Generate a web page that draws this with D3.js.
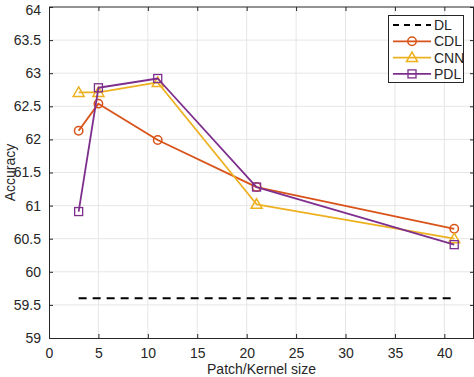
<!DOCTYPE html>
<html>
<head>
<meta charset="utf-8">
<script src="https://cdn.jsdelivr.net/npm/d3@7"></script>
<style>
  body { margin: 0; background: #fff; }
  svg { display: block; font-family: "Liberation Sans", Arial, sans-serif; }
</style>
</head>
<body>
<svg id="chart" width="474" height="377"></svg>
<script>
// data
var sizes = [3, 5, 11, 21, 41];
var cdl = [62.13, 62.54, 61.99, 61.28, 60.65];
var cnn = [62.71, 62.71, 62.86, 61.02, 60.50];
var pdl = [60.91, 62.78, 62.92, 61.28, 60.41];
var dlX = [3, 41];
var dlVal = [59.6, 59.6];
var xTicks = [0, 5, 10, 15, 20, 25, 30, 35, 40];
var yTicks = [59, 59.5, 60, 60.5, 61, 61.5, 62, 62.5, 63, 63.5, 64];

var svg = d3.select("#chart");
var margin = {top: 7, right: 0, bottom: 39, left: 49};
var width = 474 - margin.left - margin.right;
var height = 377 - margin.top - margin.bottom;

var g = svg.append("g")
    .attr("transform", "translate(" + margin.left + "," + margin.top + ")");

var x = d3.scaleLinear().domain([0, 43]).range([0, width]);
var y = d3.scaleLinear().domain([59, 64]).range([height, 0]);

// grid
g.append("g").selectAll("line").data(xTicks.slice(1)).enter().append("line")
    .attr("x1", d => x(d)).attr("x2", d => x(d))
    .attr("y1", 0).attr("y2", height)
    .attr("stroke", "#e6e6e6").attr("stroke-width", 1);
g.append("g").selectAll("line").data(yTicks.slice(1, -1)).enter().append("line")
    .attr("x1", 0).attr("x2", width)
    .attr("y1", d => y(d)).attr("y2", d => y(d))
    .attr("stroke", "#e6e6e6").attr("stroke-width", 1);

// axes (ticks pointing inward)
var xAxis = g.append("g")
    .attr("transform", "translate(0," + height + ")")
    .call(d3.axisBottom(x).tickValues(xTicks).tickSizeInner(-4).tickSizeOuter(0).tickPadding(10));
var yAxis = g.append("g")
    .call(d3.axisLeft(y).tickValues(yTicks).tickFormat(d3.format("")).tickSizeInner(-4).tickSizeOuter(0).tickPadding(8));
[xAxis, yAxis].forEach(function(a) {
  a.selectAll("path").attr("stroke", "#262626");
  a.selectAll("line").attr("stroke", "#262626");
  a.selectAll("text").attr("fill", "#262626").style("font-size", "14px");
});
// keep the top label inside the page
yAxis.selectAll(".tick").filter(d => d === 64).select("text").attr("dy", "0.5em");

// top and right spines with inward ticks
g.append("line").attr("x1", 0).attr("x2", width).attr("y1", 0).attr("y2", 0).attr("stroke", "#262626");
g.append("line").attr("x1", width - 0.5).attr("x2", width - 0.5).attr("y1", 0).attr("y2", height).attr("stroke", "#262626");
g.append("g").selectAll("line").data(xTicks).enter().append("line")
    .attr("x1", d => x(d) + 0.5).attr("x2", d => x(d) + 0.5).attr("y1", 0).attr("y2", 4)
    .attr("stroke", "#262626");
g.append("g").selectAll("line").data(yTicks).enter().append("line")
    .attr("x1", width - 4).attr("x2", width).attr("y1", d => y(d) + 0.5).attr("y2", d => y(d) + 0.5)
    .attr("stroke", "#262626");

// axis labels
svg.append("text")
    .attr("x", margin.left + x(21.5)).attr("y", 374)
    .attr("text-anchor", "middle").attr("fill", "#262626").style("font-size", "14px")
    .text("Patch/Kernel size");
svg.append("text")
    .attr("transform", "translate(15," + (margin.top + height / 2) + ") rotate(-90)")
    .attr("text-anchor", "middle").attr("fill", "#262626").style("font-size", "14px")
    .text("Accuracy");

var line = d3.line()
    .x(function(d) { return x(d[0]); })
    .y(function(d) { return y(d[1]); });

var series = [
  {name: "CDL", vals: cdl, color: "#D95319", marker: "circle"},
  {name: "CNN", vals: cnn, color: "#EDB120", marker: "triangle"},
  {name: "PDL", vals: pdl, color: "#7E2F8E", marker: "square"}
];

function drawMarker(sel, type, color) {
  if (type === "circle") {
    sel.append("circle").attr("r", 4.2)
      .attr("fill", "none").attr("stroke", color).attr("stroke-width", 1.5);
  } else if (type === "triangle") {
    sel.append("path").attr("d", "M0,-5.5L5.5,4L-5.5,4Z")
      .attr("fill", "none").attr("stroke", color).attr("stroke-width", 1.5);
  } else {
    sel.append("rect").attr("x", -4).attr("y", -4).attr("width", 8).attr("height", 8)
      .attr("fill", "none").attr("stroke", color).attr("stroke-width", 1.3);
  }
}

// DL dashed line
g.append("path")
    .datum(d3.zip(dlX, dlVal))
    .attr("fill", "none").attr("stroke", "#000").attr("stroke-width", 2)
    .attr("stroke-dasharray", "8,6")
    .attr("d", line);

series.forEach(function(s) {
  var pts = d3.zip(sizes, s.vals);
  g.append("path")
    .datum(pts)
    .attr("fill", "none").attr("stroke", s.color).attr("stroke-width", 1.8)
    .attr("stroke-linejoin", "round")
    .attr("d", line);
  pts.forEach(function(p) {
    var m = g.append("g").attr("transform", "translate(" + x(p[0]) + "," + y(p[1]) + ")");
    drawMarker(m, s.marker, s.color);
  });
});

// legend
var lg = svg.append("g").attr("transform", "translate(388,15)");
lg.append("rect").attr("x", 0.5).attr("y", 0.5).attr("width", 75).attr("height", 67)
    .attr("fill", "#fff").attr("stroke", "#262626").attr("stroke-width", 1);
var entries = [{name: "DL", color: "#000", marker: null}].concat(series);
entries.forEach(function(e, i) {
  var yy = 10 + i * 16.3;
  var row = lg.append("g").attr("transform", "translate(0," + yy + ")");
  if (e.marker === null) {
    row.append("line").attr("x1", 5).attr("x2", 43).attr("y1", 0).attr("y2", 0)
      .attr("stroke", "#000").attr("stroke-width", 2).attr("stroke-dasharray", "6,5");
  } else {
    row.append("line").attr("x1", 5).attr("x2", 43).attr("y1", 0).attr("y2", 0)
      .attr("stroke", e.color).attr("stroke-width", 1.8);
    var m = row.append("g").attr("transform", "translate(24,0)");
    drawMarker(m, e.marker, e.color);
  }
  row.append("text").attr("x", 46).attr("y", 5)
    .attr("fill", "#262626").style("font-size", "14px").text(e.name);
});
</script>
</body>
</html>
